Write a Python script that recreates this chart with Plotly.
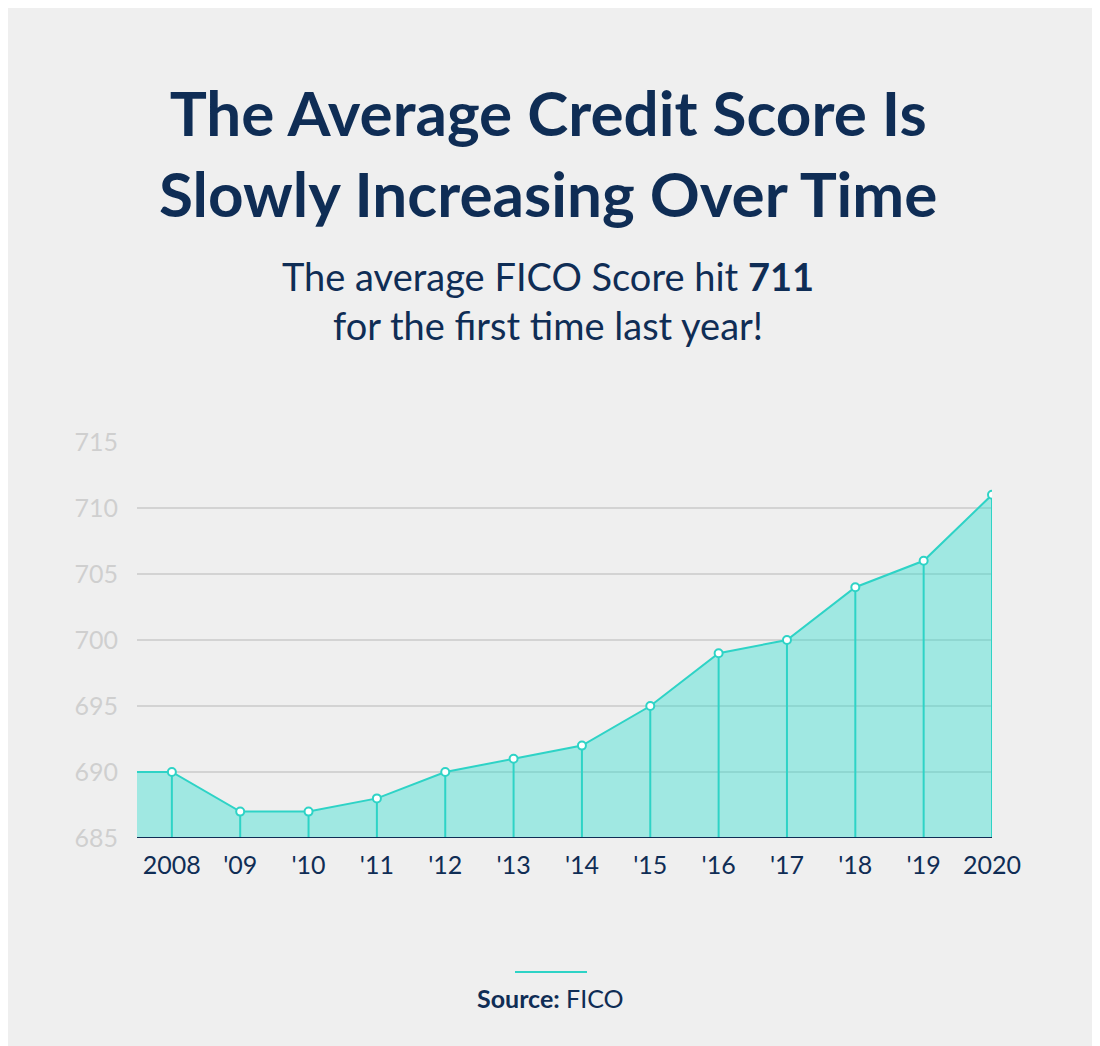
import plotly.graph_objects as go

years = [2008, 2009, 2010, 2011, 2012, 2013, 2014, 2015, 2016, 2017, 2018, 2019, 2020]
scores = [690, 687, 687, 688, 690, 691, 692, 695, 699, 700, 704, 706, 711]
tick_labels = ["2008", "'09", "'10", "'11", "'12", "'13", "'14", "'15", "'16", "'17", "'18", "'19", "2020"]
y_ticks = [685, 690, 695, 700, 705, 710, 715]

NAVY = "#0f2d55"
TEAL = "#2ed3c6"
BG = "#efefef"
FONT = "Lato"

x_left = years[0] - 0.51
base = 685

# pixel helpers for the 855x396 plot area (top-left at 137,442 in the page)
def px(x):
    return (x - 137) / 855

def py(y):
    return (838 - y) / 396

fig = go.Figure()

# filled area, extended to the left edge of the plot
fig.add_trace(go.Scatter(
    x=[x_left] + years, y=[scores[0]] + scores,
    mode="lines", line=dict(color=TEAL, width=2),
    fill="tozeroy", fillcolor="rgba(50,222,208,0.42)",
    hoverinfo="skip", showlegend=False,
))

# vertical drop lines
drop_x, drop_y = [], []
for yr, s in zip(years, scores):
    drop_x += [yr, yr, None]
    drop_y += [base, s, None]
fig.add_trace(go.Scatter(x=drop_x, y=drop_y, mode="lines",
                         line=dict(color=TEAL, width=2), showlegend=False))

fig.add_trace(go.Scatter(
    x=years, y=scores, mode="markers",
    marker=dict(size=8, color="white", line=dict(color=TEAL, width=2)),
    showlegend=False,
))

fig.update_layout(
    width=1100, height=1046,
    paper_bgcolor=BG, plot_bgcolor=BG,
    margin=dict(l=129, r=116, t=434, b=216),
    font=dict(family=FONT),
    xaxis=dict(range=[x_left, 2020], tickvals=years, ticktext=tick_labels,
               showgrid=False, zeroline=False, showline=False,
               tickfont=dict(size=25, color=NAVY), ticks="", ticklabelstandoff=10),
    yaxis=dict(range=[685, 715], tickvals=y_ticks, showgrid=True,
               gridcolor="#d3d3d3", gridwidth=2, zeroline=False,
               tickfont=dict(size=25, color="#cfcfcf"), ticks="", ticklabelstandoff=18),
    shapes=[
        dict(type="line", xref="paper", yref="y", x0=0, x1=1, y0=base, y1=base,
             line=dict(color=NAVY, width=2)),
        dict(type="line", xref="paper", yref="paper", x0=px(515), x1=px(587),
             y0=py(972), y1=py(972), line=dict(color=TEAL, width=2)),
    ],
    annotations=[
        dict(text="<b>The Average Credit Score Is<br>Slowly Increasing Over Time</b>",
             xref="paper", yref="paper", x=px(548), y=py(153), yanchor="middle",
             showarrow=False, font=dict(size=62, color=NAVY), align="center"),
        dict(text="The average FICO Score hit <b>711</b><br>for the first time last year!",
             xref="paper", yref="paper", x=px(548), y=py(300), yanchor="middle",
             showarrow=False, font=dict(size=38, color=NAVY), align="center"),
        dict(text="<b>Source:</b> FICO",
             xref="paper", yref="paper", x=px(550), y=py(998), yanchor="middle",
             showarrow=False, font=dict(size=25, color=NAVY)),
    ],
)

fig.write_html("out.html")
